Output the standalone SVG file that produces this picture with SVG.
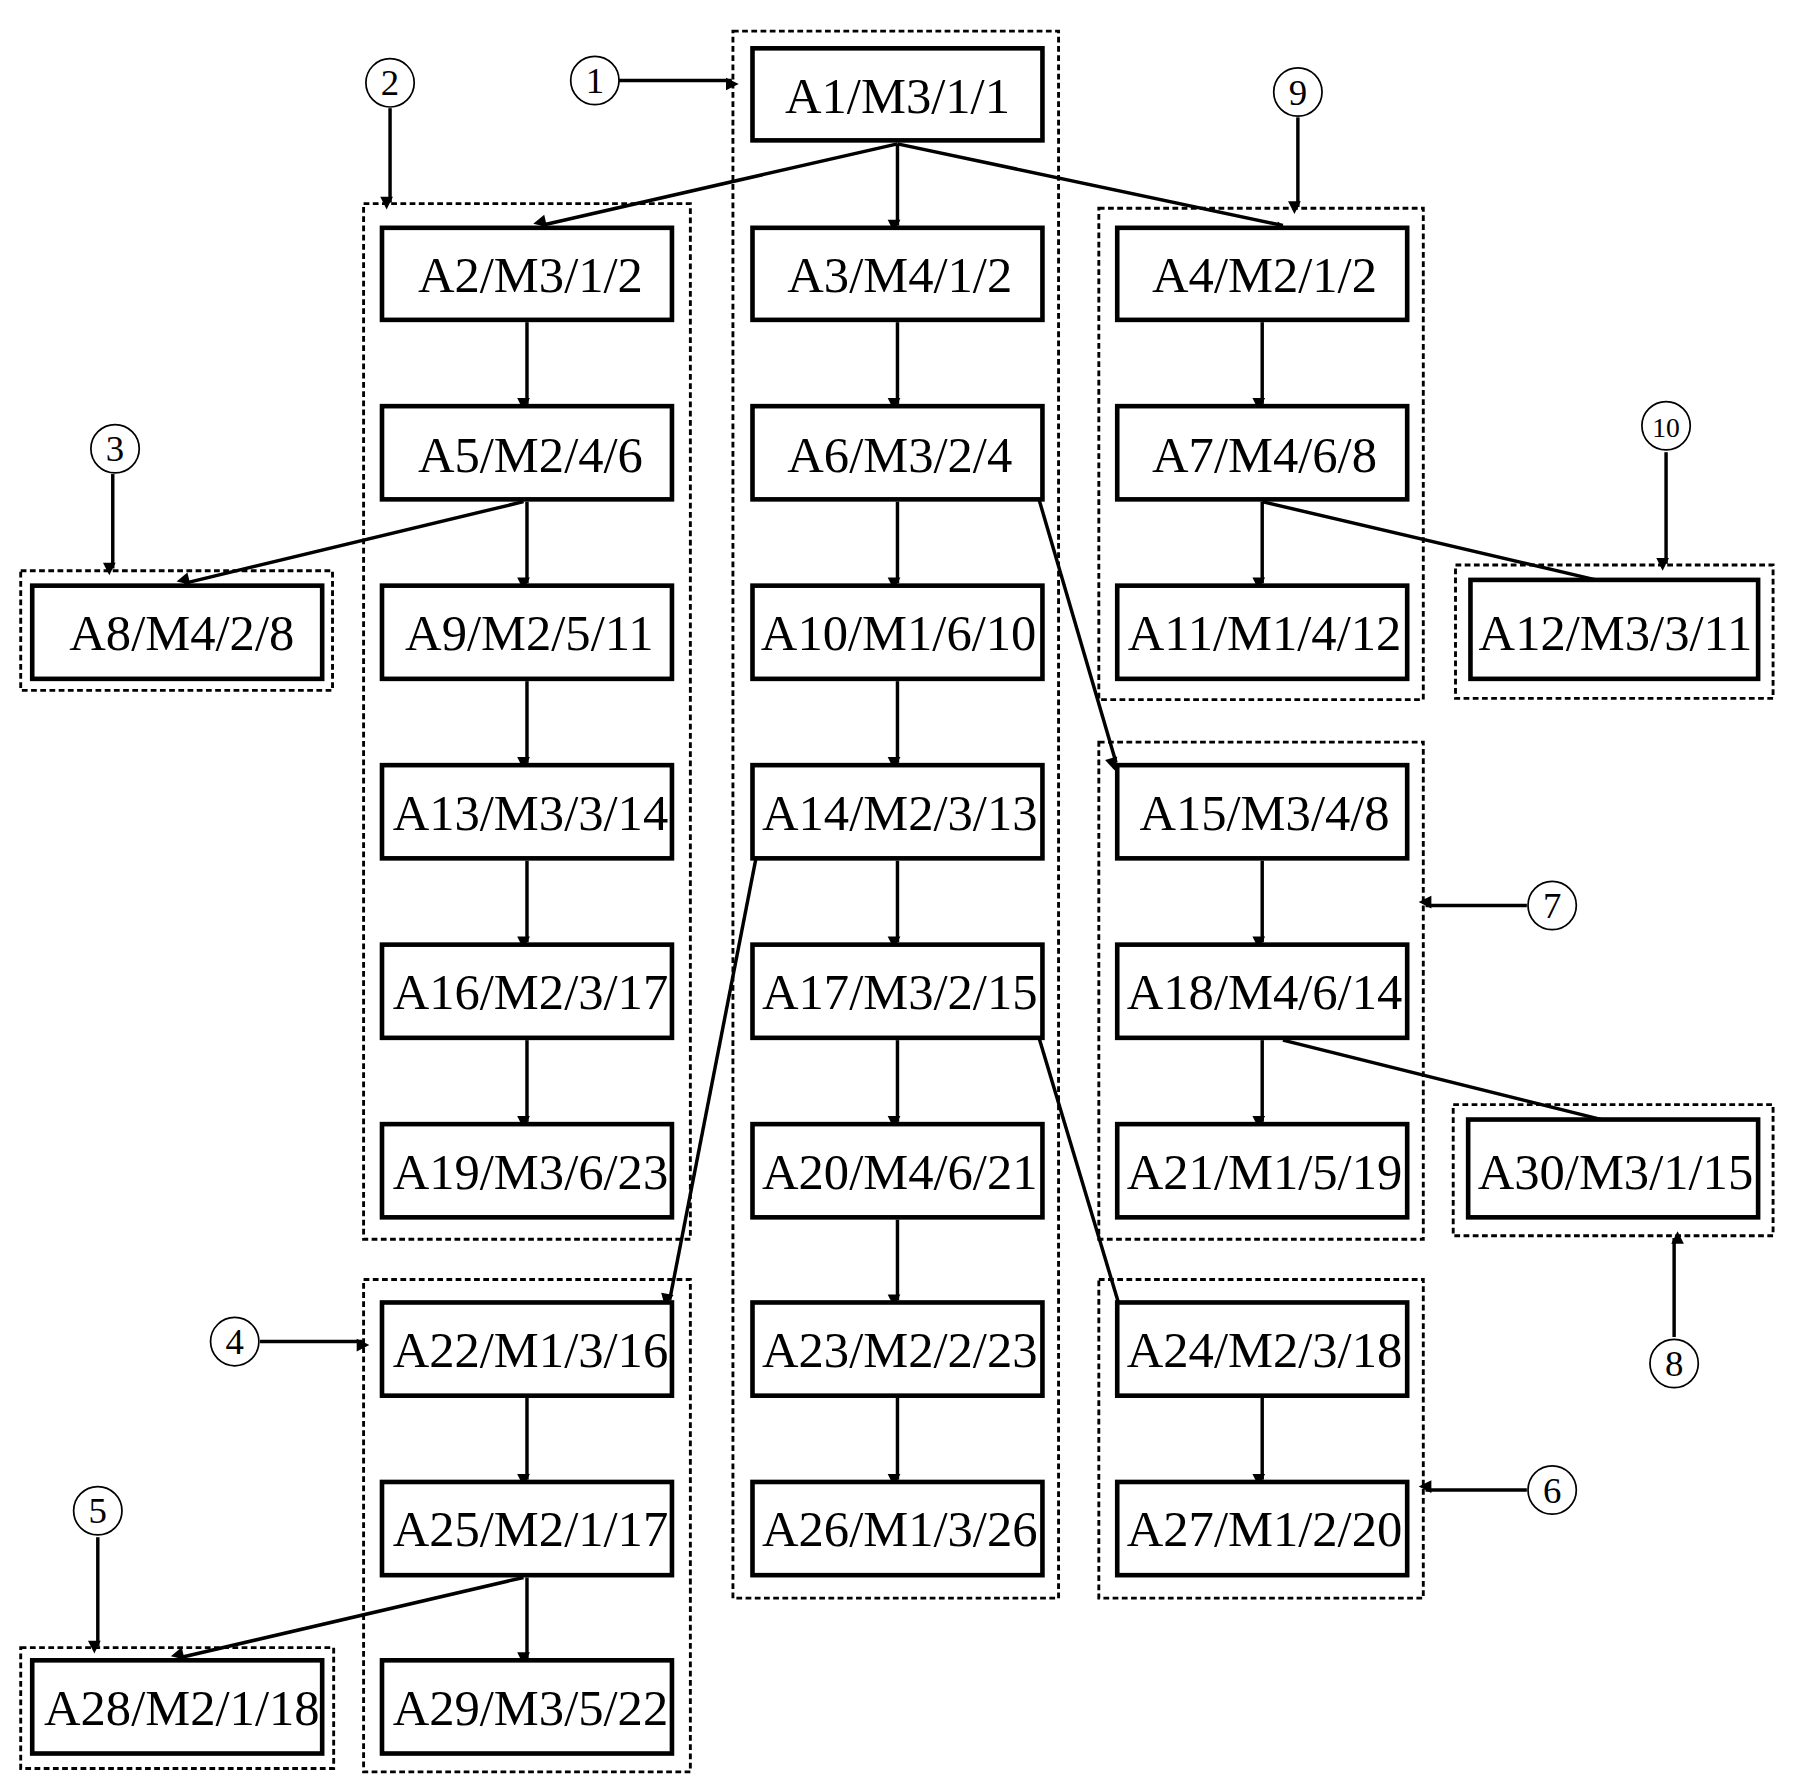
<svg xmlns="http://www.w3.org/2000/svg" width="1795" height="1792" viewBox="0 0 1795 1792">
<style>
.n rect{fill:#fff;stroke:#000;stroke-width:4}
.n text,.lb text{font-family:"Liberation Serif",serif;font-size:44px;text-anchor:middle;fill:#000}
.lb circle{fill:none;stroke:#000;stroke-width:1.5}
.lb text{font-size:32px}
.g{fill:none;stroke:#000;stroke-width:2.5;stroke-dasharray:5 3}
.e line{stroke:#000;stroke-width:3}
</style>
<defs><marker id="a" viewBox="0 0 10 10" refX="10" refY="5" markerWidth="6" markerHeight="5" orient="auto" markerUnits="userSpaceOnUse" style="overflow:visible"><path d="M0,0L10,5L0,10z" transform="scale(2.2)" fill="#000"/></marker></defs>
<rect width="1795" height="1792" fill="#fff"/>
<g transform="scale(1.1506)">
<g id="groups">
<rect class="g" x="637" y="27" width="283" height="1362"/>
<rect class="g" x="316" y="177" width="284" height="900"/>
<rect class="g" x="316" y="1112" width="284" height="428"/>
<rect class="g" x="955" y="181" width="282" height="427"/>
<rect class="g" x="955" y="645" width="282" height="432"/>
<rect class="g" x="955" y="1112" width="282" height="277"/>
<rect class="g" x="18" y="496" width="271" height="104"/>
<rect class="g" x="18" y="1432" width="272" height="105"/>
<rect class="g" x="1265" y="491" width="276" height="116"/>
<rect class="g" x="1263" y="960" width="278" height="114"/>
</g>
<g id="connectors" class="e">
<line x1="780" y1="125" x2="470" y2="196" marker-end="url(#a)"/>
<line x1="780" y1="125" x2="780" y2="196" marker-end="url(#a)"/>
<line x1="780" y1="125" x2="1115" y2="196" marker-end="url(#a)"/>
<line x1="458" y1="280" x2="458" y2="351" marker-end="url(#a)"/>
<line x1="458" y1="436" x2="458" y2="507" marker-end="url(#a)"/>
<line x1="458" y1="592" x2="458" y2="663" marker-end="url(#a)"/>
<line x1="458" y1="748" x2="458" y2="819" marker-end="url(#a)"/>
<line x1="458" y1="904" x2="458" y2="975" marker-end="url(#a)"/>
<line x1="458" y1="1215" x2="458" y2="1286" marker-end="url(#a)"/>
<line x1="458" y1="1371" x2="458" y2="1441" marker-end="url(#a)"/>
<line x1="780" y1="280" x2="780" y2="351" marker-end="url(#a)"/>
<line x1="780" y1="436" x2="780" y2="507" marker-end="url(#a)"/>
<line x1="780" y1="592" x2="780" y2="663" marker-end="url(#a)"/>
<line x1="780" y1="748" x2="780" y2="819" marker-end="url(#a)"/>
<line x1="780" y1="904" x2="780" y2="975" marker-end="url(#a)"/>
<line x1="780" y1="1060" x2="780" y2="1130" marker-end="url(#a)"/>
<line x1="780" y1="1215" x2="780" y2="1286" marker-end="url(#a)"/>
<line x1="1097" y1="280" x2="1097" y2="351" marker-end="url(#a)"/>
<line x1="1097" y1="436" x2="1097" y2="507" marker-end="url(#a)"/>
<line x1="1097" y1="748" x2="1097" y2="819" marker-end="url(#a)"/>
<line x1="1097" y1="904" x2="1097" y2="975" marker-end="url(#a)"/>
<line x1="1097" y1="1215" x2="1097" y2="1286" marker-end="url(#a)"/>
<line x1="455" y1="436" x2="160" y2="507" marker-end="url(#a)"/>
<line x1="903" y1="434" x2="970" y2="663" marker-end="url(#a)"/>
<line x1="1097" y1="436" x2="1400" y2="507" marker-end="url(#a)"/>
<line x1="657" y1="746" x2="582" y2="1130" marker-end="url(#a)"/>
<line x1="903" y1="902" x2="972" y2="1132"/>
<line x1="1115" y1="904" x2="1400" y2="975" marker-end="url(#a)"/>
<line x1="455" y1="1371" x2="155" y2="1441" marker-end="url(#a)"/>
<line x1="538" y1="70" x2="636" y2="70" marker-end="url(#a)"/>
<line x1="339" y1="94" x2="339" y2="176" marker-end="url(#a)"/>
<line x1="98" y1="412" x2="98" y2="494" marker-end="url(#a)"/>
<line x1="226" y1="1166" x2="315" y2="1166" marker-end="url(#a)"/>
<line x1="85" y1="1336" x2="85" y2="1431" marker-end="url(#a)"/>
<line x1="1327" y1="1295" x2="1239" y2="1295" marker-end="url(#a)"/>
<line x1="1327" y1="787" x2="1239" y2="787" marker-end="url(#a)"/>
<line x1="1455" y1="1162" x2="1455" y2="1076" marker-end="url(#a)"/>
<line x1="1128" y1="102" x2="1128" y2="180" marker-end="url(#a)"/>
<line x1="1448" y1="393" x2="1448" y2="490" marker-end="url(#a)"/>
</g>
<g id="labels" class="lb">
<g id="l1"><circle cx="517" cy="70" r="21"/><text x="517" y="81">1</text></g>
<g id="l2"><circle cx="339" cy="72" r="21"/><text x="339" y="83">2</text></g>
<g id="l3"><circle cx="100" cy="390" r="21"/><text x="100" y="401">3</text></g>
<g id="l4"><circle cx="204" cy="1166" r="21"/><text x="204" y="1177">4</text></g>
<g id="l5"><circle cx="85" cy="1313" r="21"/><text x="85" y="1324">5</text></g>
<g id="l6"><circle cx="1349" cy="1295" r="21"/><text x="1349" y="1306">6</text></g>
<g id="l7"><circle cx="1349" cy="787" r="21"/><text x="1349" y="798">7</text></g>
<g id="l8"><circle cx="1455" cy="1185" r="21"/><text x="1455" y="1196">8</text></g>
<g id="l9"><circle cx="1128" cy="80" r="21"/><text x="1128" y="91">9</text></g>
<g id="l10"><circle cx="1448" cy="370" r="21"/><text x="1448" y="380" style="font-size:24px">10</text></g>
</g>
<g id="nodes" class="n">
<g id="A1"><rect x="654" y="42" width="252" height="80"/><text x="780" y="98">A1/M3/1/1</text></g>
<g id="A2"><rect x="332" y="198" width="252" height="80"/><text x="461" y="254">A2/M3/1/2</text></g>
<g id="A3"><rect x="654" y="198" width="252" height="80"/><text x="782" y="254">A3/M4/1/2</text></g>
<g id="A4"><rect x="971" y="198" width="252" height="80"/><text x="1099" y="254">A4/M2/1/2</text></g>
<g id="A5"><rect x="332" y="353" width="252" height="81"/><text x="461" y="410">A5/M2/4/6</text></g>
<g id="A6"><rect x="654" y="353" width="252" height="81"/><text x="782" y="410">A6/M3/2/4</text></g>
<g id="A7"><rect x="971" y="353" width="252" height="81"/><text x="1099" y="410">A7/M4/6/8</text></g>
<g id="A8"><rect x="28" y="509" width="252" height="81"/><text x="158" y="565">A8/M4/2/8</text></g>
<g id="A9"><rect x="332" y="509" width="252" height="81"/><text x="460" y="565">A9/M2/5/11</text></g>
<g id="A10"><rect x="654" y="509" width="252" height="81"/><text x="781" y="565">A10/M1/6/10</text></g>
<g id="A11"><rect x="971" y="509" width="252" height="81"/><text x="1099" y="565">A11/M1/4/12</text></g>
<g id="A12"><rect x="1278" y="504" width="250" height="86"/><text x="1404" y="565">A12/M3/3/11</text></g>
<g id="A13"><rect x="332" y="665" width="252" height="81"/><text x="461" y="721">A13/M3/3/14</text></g>
<g id="A14"><rect x="654" y="665" width="252" height="81"/><text x="782" y="721">A14/M2/3/13</text></g>
<g id="A15"><rect x="971" y="665" width="252" height="81"/><text x="1099" y="721">A15/M3/4/8</text></g>
<g id="A16"><rect x="332" y="821" width="252" height="81"/><text x="461" y="877">A16/M2/3/17</text></g>
<g id="A17"><rect x="654" y="821" width="252" height="81"/><text x="782" y="877">A17/M3/2/15</text></g>
<g id="A18"><rect x="971" y="821" width="252" height="81"/><text x="1099" y="877">A18/M4/6/14</text></g>
<g id="A19"><rect x="332" y="977" width="252" height="81"/><text x="461" y="1033">A19/M3/6/23</text></g>
<g id="A20"><rect x="654" y="977" width="252" height="81"/><text x="782" y="1033">A20/M4/6/21</text></g>
<g id="A21"><rect x="971" y="977" width="252" height="81"/><text x="1099" y="1033">A21/M1/5/19</text></g>
<g id="A30"><rect x="1276" y="973" width="252" height="85"/><text x="1404" y="1033">A30/M3/1/15</text></g>
<g id="A22"><rect x="332" y="1132" width="252" height="81"/><text x="461" y="1188">A22/M1/3/16</text></g>
<g id="A23"><rect x="654" y="1132" width="252" height="81"/><text x="782" y="1188">A23/M2/2/23</text></g>
<g id="A24"><rect x="971" y="1132" width="252" height="81"/><text x="1099" y="1188">A24/M2/3/18</text></g>
<g id="A25"><rect x="332" y="1288" width="252" height="81"/><text x="461" y="1344">A25/M2/1/17</text></g>
<g id="A26"><rect x="654" y="1288" width="252" height="81"/><text x="782" y="1344">A26/M1/3/26</text></g>
<g id="A27"><rect x="971" y="1288" width="252" height="81"/><text x="1099" y="1344">A27/M1/2/20</text></g>
<g id="A28"><rect x="28" y="1443" width="252" height="81"/><text x="158" y="1499">A28/M2/1/18</text></g>
<g id="A29"><rect x="332" y="1443" width="252" height="81"/><text x="461" y="1499">A29/M3/5/22</text></g>
</g>
</g>
</svg>
